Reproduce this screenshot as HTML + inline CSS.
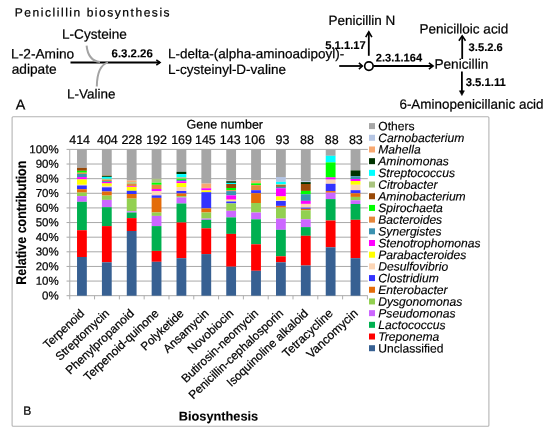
<!DOCTYPE html>
<html lang="en"><head><meta charset="utf-8"><title>Penicillin biosynthesis</title>
<style>html,body{margin:0;padding:0;background:#fff}svg{display:block}text{font-family:"Liberation Sans",sans-serif;fill:#000;text-rendering:geometricPrecision;stroke:#000;stroke-width:.22px}.b{font-weight:bold;stroke-width:.12px}.i,.n{stroke-width:.15px}.i{font-style:italic}</style></head><body>
<svg width="550" height="432" viewBox="0 0 550 432">
<rect width="550" height="432" fill="#fff"/>
<g id="panelA">
<text x="14.8" y="16.5" font-size="12" textLength="154.8" lengthAdjust="spacing" transform="rotate(0.03 14.8 16.5)">Peniclillin biosynthesis</text>
<text x="62.01" y="38.85" font-size="13.59" transform="rotate(0.03 62.01 38.85)">L-Cysteine</text>
<text x="11.10" y="58.50" font-size="13.70" transform="rotate(0.03 11.10 58.50)">L-2-Amino</text>
<text x="11.65" y="73.80" font-size="13.73" transform="rotate(0.03 11.65 73.80)">adipate</text>
<text x="67.02" y="98.60" font-size="13.48" transform="rotate(0.03 67.02 98.60)">L-Valine</text>
<text x="15.80" y="109.40" font-size="14.33" transform="rotate(0.03 15.80 109.40)">A</text>
<text x="168.12" y="58.20" font-size="13.49" transform="rotate(0.03 168.12 58.20)">L-delta-(alpha-aminoadipoyl)-</text>
<text x="168.12" y="74.00" font-size="13.50" transform="rotate(0.03 168.12 74.00)">L-cysteinyl-D-valine</text>
<text x="111.56" y="57.20" font-size="11.41" class="b" transform="rotate(0.03 111.56 57.20)">6.3.2.26</text>
<path d="M70.5 62.5H160.01" stroke="#000" stroke-width="1.8" fill="none"/>
<path d="M156.31 59.90L160.01 62.50L156.31 65.10" stroke="#000" stroke-width="1.6" fill="none"/>
<path d="M86.6 45.7C87.5 55 91 61 100 62.1" stroke="#a3a3a3" stroke-width="2" fill="none"/>
<path d="M96.8 86.5C97 74 99.5 65 108 62.4" stroke="#a3a3a3" stroke-width="2" fill="none"/>
<text x="328.42" y="24.90" font-size="13.50" transform="rotate(0.03 328.42 24.90)">Penicillin N</text>
<text x="419.52" y="33.50" font-size="13.53" transform="rotate(0.03 419.52 33.50)">Penicilloic acid</text>
<text x="434.41" y="68.80" font-size="13.67" transform="rotate(0.03 434.41 68.80)">Penicillin</text>
<text x="399.43" y="108.70" font-size="13.44" transform="rotate(0.03 399.43 108.70)">6-Aminopenicillanic acid</text>
<text x="325.16" y="49.10" font-size="11.25" class="b" transform="rotate(0.03 325.16 49.10)">5.1.1.17</text>
<text x="375.77" y="61.40" font-size="11.12" class="b" transform="rotate(0.03 375.77 61.40)">2.3.1.164</text>
<text x="468.58" y="51.00" font-size="11.19" class="b" transform="rotate(0.03 468.58 51.00)">3.5.2.6</text>
<text x="465.67" y="86.10" font-size="11.30" class="b" transform="rotate(0.03 465.67 86.10)">3.5.1.11</text>
<path d="M339.2 66.0H362.31" stroke="#000" stroke-width="1.8" fill="none"/>
<path d="M358.91 62.90L362.31 66.00L358.91 69.10" stroke="#000" stroke-width="1.6" fill="none"/>
<circle cx="368.9" cy="66.1" r="4.25" stroke="#000" stroke-width="1.7" fill="#fff"/>
<path d="M368.8 55.8V31.86" stroke="#000" stroke-width="1.8" fill="none"/>
<path d="M365.70 37.06L368.80 31.86L371.90 37.06" stroke="#000" stroke-width="1.6" fill="none"/>
<path d="M373.6 66.0H433.08" stroke="#000" stroke-width="1.8" fill="none"/>
<path d="M428.88 62.80L433.08 66.00L428.88 69.20" stroke="#000" stroke-width="1.6" fill="none"/>
<path d="M462.2 59.0V35.91" stroke="#000" stroke-width="1.8" fill="none"/>
<path d="M458.90 40.71L462.20 35.91L465.50 40.71" stroke="#000" stroke-width="1.6" fill="none"/>
<path d="M461.9 71.4V93" stroke="#000" stroke-width="1.8" fill="none"/>
<path d="M459.4 90.8L461.9 95.5L464.4 90.8Z" stroke="#000" stroke-width="0.6" fill="#000"/>
</g>
<g id="panelB">
<rect x="12.1" y="116.8" width="476.8" height="309.4" rx="1" fill="#fff" stroke="#b4b4b4" stroke-width="1.1"/>
<path d="M66.55 149.40H367.81" stroke="#a8a8a8" stroke-width="1" fill="none"/>
<path d="M66.55 164.03H367.81" stroke="#a8a8a8" stroke-width="1" fill="none"/>
<path d="M66.55 178.66H367.81" stroke="#a8a8a8" stroke-width="1" fill="none"/>
<path d="M66.55 193.29H367.81" stroke="#a8a8a8" stroke-width="1" fill="none"/>
<path d="M66.55 207.92H367.81" stroke="#a8a8a8" stroke-width="1" fill="none"/>
<path d="M66.55 222.55H367.81" stroke="#a8a8a8" stroke-width="1" fill="none"/>
<path d="M66.55 237.18H367.81" stroke="#a8a8a8" stroke-width="1" fill="none"/>
<path d="M66.55 251.81H367.81" stroke="#a8a8a8" stroke-width="1" fill="none"/>
<path d="M66.55 266.44H367.81" stroke="#a8a8a8" stroke-width="1" fill="none"/>
<path d="M66.55 281.07H367.81" stroke="#a8a8a8" stroke-width="1" fill="none"/>
<path d="M66.55 295.70H367.81" stroke="#a8a8a8" stroke-width="1" fill="none"/>
<path d="M69.75 149.40V299.40" stroke="#adadad" stroke-width="1" fill="none"/>
<path d="M94.56 295.70V299.40" stroke="#adadad" stroke-width="1" fill="none"/>
<path d="M119.36 295.70V299.40" stroke="#adadad" stroke-width="1" fill="none"/>
<path d="M144.16 295.70V299.40" stroke="#adadad" stroke-width="1" fill="none"/>
<path d="M168.97 295.70V299.40" stroke="#adadad" stroke-width="1" fill="none"/>
<path d="M193.78 295.70V299.40" stroke="#adadad" stroke-width="1" fill="none"/>
<path d="M218.58 295.70V299.40" stroke="#adadad" stroke-width="1" fill="none"/>
<path d="M243.38 295.70V299.40" stroke="#adadad" stroke-width="1" fill="none"/>
<path d="M268.19 295.70V299.40" stroke="#adadad" stroke-width="1" fill="none"/>
<path d="M293.00 295.70V299.40" stroke="#adadad" stroke-width="1" fill="none"/>
<path d="M317.80 295.70V299.40" stroke="#adadad" stroke-width="1" fill="none"/>
<path d="M342.61 295.70V299.40" stroke="#adadad" stroke-width="1" fill="none"/>
<path d="M367.41 295.70V299.40" stroke="#adadad" stroke-width="1" fill="none"/>
<text x="58.7" y="153.20" font-size="11.5" text-anchor="end" transform="rotate(0.03 58.7 153.20)">100%</text>
<text x="58.7" y="167.83" font-size="11.5" text-anchor="end" transform="rotate(0.03 58.7 167.83)">90%</text>
<text x="58.7" y="182.46" font-size="11.5" text-anchor="end" transform="rotate(0.03 58.7 182.46)">80%</text>
<text x="58.7" y="197.09" font-size="11.5" text-anchor="end" transform="rotate(0.03 58.7 197.09)">70%</text>
<text x="58.7" y="211.72" font-size="11.5" text-anchor="end" transform="rotate(0.03 58.7 211.72)">60%</text>
<text x="58.7" y="226.35" font-size="11.5" text-anchor="end" transform="rotate(0.03 58.7 226.35)">50%</text>
<text x="58.7" y="240.98" font-size="11.5" text-anchor="end" transform="rotate(0.03 58.7 240.98)">40%</text>
<text x="58.7" y="255.61" font-size="11.5" text-anchor="end" transform="rotate(0.03 58.7 255.61)">30%</text>
<text x="58.7" y="270.24" font-size="11.5" text-anchor="end" transform="rotate(0.03 58.7 270.24)">20%</text>
<text x="58.7" y="284.87" font-size="11.5" text-anchor="end" transform="rotate(0.03 58.7 284.87)">10%</text>
<text x="58.7" y="299.50" font-size="11.5" text-anchor="end" transform="rotate(0.03 58.7 299.50)">0%</text>
<rect x="77.03" y="149.40" width="9.80" height="18.50" fill="#a6a6a6"/>
<rect x="77.03" y="167.90" width="9.80" height="2.90" fill="#984807"/>
<rect x="77.03" y="170.80" width="9.80" height="1.90" fill="#00ff00"/>
<rect x="77.03" y="172.70" width="9.80" height="1.20" fill="#e6873c"/>
<rect x="77.03" y="173.90" width="9.80" height="3.20" fill="#3b92b0"/>
<rect x="77.03" y="177.10" width="9.80" height="2.30" fill="#ff00ff"/>
<rect x="77.03" y="179.40" width="9.80" height="5.40" fill="#ffff00"/>
<rect x="77.03" y="184.80" width="9.80" height="0.70" fill="#fcd5b5"/>
<rect x="77.03" y="185.50" width="9.80" height="3.70" fill="#3333ff"/>
<rect x="77.03" y="189.20" width="9.80" height="3.40" fill="#e46c0a"/>
<rect x="77.03" y="192.60" width="9.80" height="3.50" fill="#92d050"/>
<rect x="77.03" y="196.10" width="9.80" height="5.70" fill="#cc66ff"/>
<rect x="77.03" y="201.80" width="9.80" height="28.40" fill="#00b050"/>
<rect x="77.03" y="230.20" width="9.80" height="26.80" fill="#ff0000"/>
<rect x="77.03" y="257.00" width="9.80" height="38.70" fill="#376092"/>
<rect x="101.91" y="149.40" width="9.80" height="25.70" fill="#a6a6a6"/>
<rect x="101.91" y="175.10" width="9.80" height="0.60" fill="#f8a870"/>
<rect x="101.91" y="175.70" width="9.80" height="1.20" fill="#003300"/>
<rect x="101.91" y="176.90" width="9.80" height="1.90" fill="#00ffff"/>
<rect x="101.91" y="178.80" width="9.80" height="1.10" fill="#a9c47f"/>
<rect x="101.91" y="179.90" width="9.80" height="1.20" fill="#e6873c"/>
<rect x="101.91" y="181.10" width="9.80" height="0.90" fill="#3b92b0"/>
<rect x="101.91" y="182.00" width="9.80" height="1.10" fill="#ff00ff"/>
<rect x="101.91" y="183.10" width="9.80" height="0.50" fill="#e6873c"/>
<rect x="101.91" y="183.60" width="9.80" height="2.30" fill="#ffff00"/>
<rect x="101.91" y="185.90" width="9.80" height="1.40" fill="#fcd5b5"/>
<rect x="101.91" y="187.30" width="9.80" height="4.20" fill="#3333ff"/>
<rect x="101.91" y="191.50" width="9.80" height="4.10" fill="#e46c0a"/>
<rect x="101.91" y="195.60" width="9.80" height="4.30" fill="#92d050"/>
<rect x="101.91" y="199.90" width="9.80" height="7.30" fill="#cc66ff"/>
<rect x="101.91" y="207.20" width="9.80" height="18.90" fill="#00b050"/>
<rect x="101.91" y="226.10" width="9.80" height="36.20" fill="#ff0000"/>
<rect x="101.91" y="262.30" width="9.80" height="33.40" fill="#376092"/>
<rect x="126.78" y="149.40" width="9.80" height="31.20" fill="#a6a6a6"/>
<rect x="126.78" y="180.60" width="9.80" height="1.60" fill="#f8a870"/>
<rect x="126.78" y="182.20" width="9.80" height="1.70" fill="#a9c47f"/>
<rect x="126.78" y="183.90" width="9.80" height="2.20" fill="#e6873c"/>
<rect x="126.78" y="186.10" width="9.80" height="0.80" fill="#ff00ff"/>
<rect x="126.78" y="186.90" width="9.80" height="3.90" fill="#ffff00"/>
<rect x="126.78" y="190.80" width="9.80" height="3.20" fill="#3333ff"/>
<rect x="126.78" y="194.00" width="9.80" height="4.60" fill="#e46c0a"/>
<rect x="126.78" y="198.60" width="9.80" height="12.70" fill="#92d050"/>
<rect x="126.78" y="211.30" width="9.80" height="1.20" fill="#cc66ff"/>
<rect x="126.78" y="212.50" width="9.80" height="5.60" fill="#00b050"/>
<rect x="126.78" y="218.10" width="9.80" height="12.90" fill="#ff0000"/>
<rect x="126.78" y="231.00" width="9.80" height="64.70" fill="#376092"/>
<rect x="151.65" y="149.40" width="9.80" height="29.40" fill="#a6a6a6"/>
<rect x="151.65" y="178.80" width="9.80" height="3.90" fill="#a9c47f"/>
<rect x="151.65" y="182.70" width="9.80" height="2.10" fill="#00ff00"/>
<rect x="151.65" y="184.80" width="9.80" height="4.20" fill="#e6873c"/>
<rect x="151.65" y="189.00" width="9.80" height="2.00" fill="#ff00ff"/>
<rect x="151.65" y="191.00" width="9.80" height="4.40" fill="#fcd5b5"/>
<rect x="151.65" y="195.40" width="9.80" height="2.50" fill="#3333ff"/>
<rect x="151.65" y="197.90" width="9.80" height="14.60" fill="#e46c0a"/>
<rect x="151.65" y="212.50" width="9.80" height="3.40" fill="#92d050"/>
<rect x="151.65" y="215.90" width="9.80" height="10.20" fill="#cc66ff"/>
<rect x="151.65" y="226.10" width="9.80" height="24.80" fill="#00b050"/>
<rect x="151.65" y="250.90" width="9.80" height="10.90" fill="#ff0000"/>
<rect x="151.65" y="261.80" width="9.80" height="33.90" fill="#376092"/>
<rect x="176.52" y="149.40" width="9.80" height="22.40" fill="#a6a6a6"/>
<rect x="176.52" y="171.80" width="9.80" height="2.30" fill="#003300"/>
<rect x="176.52" y="174.10" width="9.80" height="3.20" fill="#00ffff"/>
<rect x="176.52" y="177.30" width="9.80" height="1.50" fill="#a9c47f"/>
<rect x="176.52" y="178.80" width="9.80" height="1.10" fill="#00ff00"/>
<rect x="176.52" y="179.90" width="9.80" height="1.40" fill="#3b92b0"/>
<rect x="176.52" y="181.30" width="9.80" height="1.80" fill="#ff00ff"/>
<rect x="176.52" y="183.10" width="9.80" height="3.90" fill="#ffff00"/>
<rect x="176.52" y="187.00" width="9.80" height="4.00" fill="#fcd5b5"/>
<rect x="176.52" y="191.00" width="9.80" height="2.50" fill="#3333ff"/>
<rect x="176.52" y="193.50" width="9.80" height="2.60" fill="#e46c0a"/>
<rect x="176.52" y="196.10" width="9.80" height="1.40" fill="#92d050"/>
<rect x="176.52" y="197.50" width="9.80" height="6.00" fill="#cc66ff"/>
<rect x="176.52" y="203.50" width="9.80" height="19.00" fill="#00b050"/>
<rect x="176.52" y="222.50" width="9.80" height="35.70" fill="#ff0000"/>
<rect x="176.52" y="258.20" width="9.80" height="37.50" fill="#376092"/>
<rect x="201.38" y="149.40" width="9.80" height="34.20" fill="#a6a6a6"/>
<rect x="201.38" y="183.60" width="9.80" height="4.20" fill="#f8a870"/>
<rect x="201.38" y="187.80" width="9.80" height="0.50" fill="#e6873c"/>
<rect x="201.38" y="188.30" width="9.80" height="2.10" fill="#ff00ff"/>
<rect x="201.38" y="190.40" width="9.80" height="1.80" fill="#ffff00"/>
<rect x="201.38" y="192.20" width="9.80" height="16.20" fill="#3333ff"/>
<rect x="201.38" y="208.40" width="9.80" height="4.10" fill="#e46c0a"/>
<rect x="201.38" y="212.50" width="9.80" height="6.10" fill="#92d050"/>
<rect x="201.38" y="218.60" width="9.80" height="1.20" fill="#cc66ff"/>
<rect x="201.38" y="219.80" width="9.80" height="8.50" fill="#00b050"/>
<rect x="201.38" y="228.30" width="9.80" height="25.80" fill="#ff0000"/>
<rect x="201.38" y="254.10" width="9.80" height="41.60" fill="#376092"/>
<rect x="226.25" y="149.40" width="9.80" height="31.30" fill="#a6a6a6"/>
<rect x="226.25" y="180.70" width="9.80" height="0.50" fill="#b5c5e3"/>
<rect x="226.25" y="181.20" width="9.80" height="1.70" fill="#003300"/>
<rect x="226.25" y="182.90" width="9.80" height="1.10" fill="#00ffff"/>
<rect x="226.25" y="184.00" width="9.80" height="4.00" fill="#984807"/>
<rect x="226.25" y="188.00" width="9.80" height="2.20" fill="#00ff00"/>
<rect x="226.25" y="190.20" width="9.80" height="0.90" fill="#e6873c"/>
<rect x="226.25" y="191.10" width="9.80" height="4.30" fill="#3b92b0"/>
<rect x="226.25" y="195.40" width="9.80" height="4.30" fill="#ff00ff"/>
<rect x="226.25" y="199.70" width="9.80" height="0.90" fill="#ffff00"/>
<rect x="226.25" y="200.60" width="9.80" height="0.90" fill="#fcd5b5"/>
<rect x="226.25" y="201.50" width="9.80" height="1.90" fill="#3333ff"/>
<rect x="226.25" y="203.40" width="9.80" height="7.40" fill="#92d050"/>
<rect x="226.25" y="210.80" width="9.80" height="6.60" fill="#cc66ff"/>
<rect x="226.25" y="217.40" width="9.80" height="16.50" fill="#00b050"/>
<rect x="226.25" y="233.90" width="9.80" height="32.80" fill="#ff0000"/>
<rect x="226.25" y="266.70" width="9.80" height="29.00" fill="#376092"/>
<rect x="251.12" y="149.40" width="9.80" height="31.30" fill="#a6a6a6"/>
<rect x="251.12" y="180.70" width="9.80" height="2.60" fill="#f8a870"/>
<rect x="251.12" y="183.30" width="9.80" height="1.90" fill="#00ff00"/>
<rect x="251.12" y="185.20" width="9.80" height="5.00" fill="#e6873c"/>
<rect x="251.12" y="190.20" width="9.80" height="3.00" fill="#3333ff"/>
<rect x="251.12" y="193.20" width="9.80" height="9.80" fill="#e46c0a"/>
<rect x="251.12" y="203.00" width="9.80" height="9.50" fill="#92d050"/>
<rect x="251.12" y="212.50" width="9.80" height="6.80" fill="#cc66ff"/>
<rect x="251.12" y="219.30" width="9.80" height="25.00" fill="#00b050"/>
<rect x="251.12" y="244.30" width="9.80" height="26.50" fill="#ff0000"/>
<rect x="251.12" y="270.80" width="9.80" height="24.90" fill="#376092"/>
<rect x="276.00" y="149.40" width="9.80" height="27.60" fill="#a6a6a6"/>
<rect x="276.00" y="177.00" width="9.80" height="4.90" fill="#b5c5e3"/>
<rect x="276.00" y="181.90" width="9.80" height="2.40" fill="#00ffff"/>
<rect x="276.00" y="184.30" width="9.80" height="0.90" fill="#a9c47f"/>
<rect x="276.00" y="185.20" width="9.80" height="1.60" fill="#984807"/>
<rect x="276.00" y="186.80" width="9.80" height="1.50" fill="#3b92b0"/>
<rect x="276.00" y="188.30" width="9.80" height="8.10" fill="#ff00ff"/>
<rect x="276.00" y="196.40" width="9.80" height="3.90" fill="#ffff00"/>
<rect x="276.00" y="200.30" width="9.80" height="0.70" fill="#fcd5b5"/>
<rect x="276.00" y="201.00" width="9.80" height="4.90" fill="#3333ff"/>
<rect x="276.00" y="205.90" width="9.80" height="1.70" fill="#e46c0a"/>
<rect x="276.00" y="207.60" width="9.80" height="11.00" fill="#92d050"/>
<rect x="276.00" y="218.60" width="9.80" height="11.20" fill="#cc66ff"/>
<rect x="276.00" y="229.80" width="9.80" height="26.50" fill="#00b050"/>
<rect x="276.00" y="256.30" width="9.80" height="6.00" fill="#ff0000"/>
<rect x="276.00" y="262.30" width="9.80" height="33.40" fill="#376092"/>
<rect x="300.87" y="149.40" width="9.80" height="31.80" fill="#a6a6a6"/>
<rect x="300.87" y="181.20" width="9.80" height="0.90" fill="#b5c5e3"/>
<rect x="300.87" y="182.10" width="9.80" height="1.90" fill="#003300"/>
<rect x="300.87" y="184.00" width="9.80" height="6.90" fill="#984807"/>
<rect x="300.87" y="190.90" width="9.80" height="3.30" fill="#00ff00"/>
<rect x="300.87" y="194.20" width="9.80" height="6.70" fill="#3b92b0"/>
<rect x="300.87" y="200.90" width="9.80" height="3.00" fill="#ff00ff"/>
<rect x="300.87" y="203.90" width="9.80" height="3.70" fill="#fcd5b5"/>
<rect x="300.87" y="207.60" width="9.80" height="1.20" fill="#3333ff"/>
<rect x="300.87" y="208.80" width="9.80" height="1.50" fill="#e46c0a"/>
<rect x="300.87" y="210.30" width="9.80" height="9.00" fill="#92d050"/>
<rect x="300.87" y="219.30" width="9.80" height="7.80" fill="#cc66ff"/>
<rect x="300.87" y="227.10" width="9.80" height="8.70" fill="#00b050"/>
<rect x="300.87" y="235.80" width="9.80" height="29.70" fill="#ff0000"/>
<rect x="300.87" y="265.50" width="9.80" height="30.20" fill="#376092"/>
<rect x="325.74" y="149.40" width="9.80" height="6.40" fill="#a6a6a6"/>
<rect x="325.74" y="155.80" width="9.80" height="6.60" fill="#00ffff"/>
<rect x="325.74" y="162.40" width="9.80" height="15.00" fill="#00ff00"/>
<rect x="325.74" y="177.40" width="9.80" height="2.20" fill="#ff00ff"/>
<rect x="325.74" y="179.60" width="9.80" height="4.20" fill="#fcd5b5"/>
<rect x="325.74" y="183.80" width="9.80" height="7.30" fill="#3333ff"/>
<rect x="325.74" y="191.10" width="9.80" height="1.60" fill="#e46c0a"/>
<rect x="325.74" y="192.70" width="9.80" height="6.40" fill="#cc66ff"/>
<rect x="325.74" y="199.10" width="9.80" height="21.40" fill="#00b050"/>
<rect x="325.74" y="220.50" width="9.80" height="26.80" fill="#ff0000"/>
<rect x="325.74" y="247.30" width="9.80" height="48.40" fill="#376092"/>
<rect x="350.61" y="149.40" width="9.80" height="21.00" fill="#a6a6a6"/>
<rect x="350.61" y="170.40" width="9.80" height="5.80" fill="#003300"/>
<rect x="350.61" y="176.20" width="9.80" height="2.80" fill="#3b92b0"/>
<rect x="350.61" y="179.00" width="9.80" height="2.00" fill="#ff00ff"/>
<rect x="350.61" y="181.00" width="9.80" height="3.80" fill="#ffff00"/>
<rect x="350.61" y="184.80" width="9.80" height="5.40" fill="#fcd5b5"/>
<rect x="350.61" y="190.20" width="9.80" height="3.10" fill="#3333ff"/>
<rect x="350.61" y="193.30" width="9.80" height="3.60" fill="#e46c0a"/>
<rect x="350.61" y="196.90" width="9.80" height="3.40" fill="#92d050"/>
<rect x="350.61" y="200.30" width="9.80" height="3.70" fill="#cc66ff"/>
<rect x="350.61" y="204.00" width="9.80" height="15.80" fill="#00b050"/>
<rect x="350.61" y="219.80" width="9.80" height="38.40" fill="#ff0000"/>
<rect x="350.61" y="258.20" width="9.80" height="37.50" fill="#376092"/>
<text x="69.21" y="143.9" font-size="12.5" transform="rotate(0.03 69.21 143.9)">414</text>
<text x="96.96" y="143.9" font-size="12.5" transform="rotate(0.03 96.96 143.9)">404</text>
<text x="121.41" y="143.9" font-size="12.5" transform="rotate(0.03 121.41 143.9)">228</text>
<text x="146.15" y="143.9" font-size="12.5" transform="rotate(0.03 146.15 143.9)">192</text>
<text x="171.15" y="143.9" font-size="12.5" transform="rotate(0.03 171.15 143.9)">169</text>
<text x="194.94" y="143.9" font-size="12.5" transform="rotate(0.03 194.94 143.9)">145</text>
<text x="219.79" y="143.9" font-size="12.5" transform="rotate(0.03 219.79 143.9)">143</text>
<text x="244.24" y="143.9" font-size="12.5" transform="rotate(0.03 244.24 143.9)">106</text>
<text x="275.57" y="143.9" font-size="12.5" transform="rotate(0.03 275.57 143.9)">93</text>
<text x="299.97" y="143.9" font-size="12.5" transform="rotate(0.03 299.97 143.9)">88</text>
<text x="324.77" y="143.9" font-size="12.5" transform="rotate(0.03 324.77 143.9)">88</text>
<text x="348.92" y="143.9" font-size="12.5" transform="rotate(0.03 348.92 143.9)">83</text>
<text x="186.57" y="128.6" font-size="12.5" transform="rotate(0.03 186.57 128.6)">Gene number</text>
<text transform="translate(25.8 283.9) rotate(-90) scale(1 1.13)" x="-0.75" y="0" font-size="12.47" class="b">Relative contribution</text>
<text transform="translate(85.03 314.20) rotate(-43.3)" font-size="11.68" text-anchor="end">Terpenoid</text>
<text transform="translate(109.91 314.20) rotate(-43.3)" font-size="11.76" text-anchor="end">Streptomycin</text>
<text transform="translate(134.78 314.20) rotate(-43.3)" font-size="11.81" text-anchor="end">Phenylpropanoid</text>
<text transform="translate(159.65 314.20) rotate(-43.3)" font-size="11.83" text-anchor="end">Terpenoid-quinone</text>
<text transform="translate(184.52 314.20) rotate(-43.3)" font-size="11.70" text-anchor="end">Polyketide</text>
<text transform="translate(209.38 314.20) rotate(-43.3)" font-size="11.71" text-anchor="end">Ansamycin</text>
<text transform="translate(234.25 314.20) rotate(-43.3)" font-size="11.72" text-anchor="end">Novobiocin</text>
<text transform="translate(259.12 314.20) rotate(-43.3)" font-size="11.84" text-anchor="end">Butirosin-neomycin</text>
<text transform="translate(284.00 314.20) rotate(-43.3)" font-size="11.87" text-anchor="end">Penicillin-cephalosporin</text>
<text transform="translate(308.87 314.20) rotate(-43.3)" font-size="11.84" text-anchor="end">Isoquinoline alkaloid</text>
<text transform="translate(333.74 314.20) rotate(-43.3)" font-size="12.15" text-anchor="end">Tetracycline</text>
<text transform="translate(358.61 314.20) rotate(-43.3)" font-size="12.15" text-anchor="end">Vancomycin</text>
<text x="178.83" y="420.5" font-size="12.76" class="b" transform="rotate(0.03 178.83 420.5)">Biosynthesis</text>
<text x="23.14" y="414.8" font-size="12.04" transform="rotate(0.03 23.14 414.8)">B</text>
<rect x="369.00" y="123.10" width="6" height="6" fill="#a6a6a6"/>
<text x="378.30" y="130.20" font-size="12.1" class="n" transform="rotate(0.03 378.30 130.20)">Others</text>
<rect x="369.00" y="134.79" width="6" height="6" fill="#b5c5e3"/>
<text x="378.30" y="141.90" font-size="12.1" class="i" transform="rotate(0.03 378.30 141.90)">Carnobacterium</text>
<rect x="369.00" y="146.48" width="6" height="6" fill="#f8a870"/>
<text x="378.30" y="153.60" font-size="12.1" class="i" transform="rotate(0.03 378.30 153.60)">Mahella</text>
<rect x="369.00" y="158.17" width="6" height="6" fill="#003300"/>
<text x="378.30" y="165.30" font-size="12.1" class="i" transform="rotate(0.03 378.30 165.30)">Aminomonas</text>
<rect x="369.00" y="169.86" width="6" height="6" fill="#00ffff"/>
<text x="378.30" y="177.00" font-size="12.1" class="i" transform="rotate(0.03 378.30 177.00)">Streptococcus</text>
<rect x="369.00" y="181.55" width="6" height="6" fill="#a9c47f"/>
<text x="378.30" y="188.70" font-size="12.1" class="i" transform="rotate(0.03 378.30 188.70)">Citrobacter</text>
<rect x="369.00" y="193.24" width="6" height="6" fill="#984807"/>
<text x="378.30" y="200.40" font-size="12.1" class="i" transform="rotate(0.03 378.30 200.40)">Aminobacterium</text>
<rect x="369.00" y="204.93" width="6" height="6" fill="#00ff00"/>
<text x="378.30" y="212.10" font-size="12.1" class="i" transform="rotate(0.03 378.30 212.10)">Spirochaeta</text>
<rect x="369.00" y="216.62" width="6" height="6" fill="#e6873c"/>
<text x="378.30" y="223.80" font-size="12.1" class="i" transform="rotate(0.03 378.30 223.80)">Bacteroides</text>
<rect x="369.00" y="228.31" width="6" height="6" fill="#3b92b0"/>
<text x="378.30" y="235.50" font-size="12.1" class="i" transform="rotate(0.03 378.30 235.50)">Synergistes</text>
<rect x="369.00" y="240.00" width="6" height="6" fill="#ff00ff"/>
<text x="378.30" y="247.20" font-size="12.1" class="i" transform="rotate(0.03 378.30 247.20)">Stenotrophomonas</text>
<rect x="369.00" y="251.69" width="6" height="6" fill="#ffff00"/>
<text x="378.30" y="258.90" font-size="12.1" class="i" transform="rotate(0.03 378.30 258.90)">Parabacteroides</text>
<rect x="369.00" y="263.38" width="6" height="6" fill="#fcd5b5"/>
<text x="378.30" y="270.60" font-size="12.1" class="i" transform="rotate(0.03 378.30 270.60)">Desulfovibrio</text>
<rect x="369.00" y="275.07" width="6" height="6" fill="#3333ff"/>
<text x="378.30" y="282.30" font-size="12.1" class="i" transform="rotate(0.03 378.30 282.30)">Clostridium</text>
<rect x="369.00" y="286.76" width="6" height="6" fill="#e46c0a"/>
<text x="378.30" y="294.00" font-size="12.1" class="i" transform="rotate(0.03 378.30 294.00)">Enterobacter</text>
<rect x="369.00" y="298.45" width="6" height="6" fill="#92d050"/>
<text x="378.30" y="305.70" font-size="12.1" class="i" transform="rotate(0.03 378.30 305.70)">Dysgonomonas</text>
<rect x="369.00" y="310.14" width="6" height="6" fill="#cc66ff"/>
<text x="378.30" y="317.40" font-size="12.1" class="i" transform="rotate(0.03 378.30 317.40)">Pseudomonas</text>
<rect x="369.00" y="321.83" width="6" height="6" fill="#00b050"/>
<text x="378.30" y="329.10" font-size="12.1" class="i" transform="rotate(0.03 378.30 329.10)">Lactococcus</text>
<rect x="369.00" y="333.52" width="6" height="6" fill="#ff0000"/>
<text x="378.30" y="340.80" font-size="12.1" class="i" transform="rotate(0.03 378.30 340.80)">Treponema</text>
<rect x="369.00" y="345.21" width="6" height="6" fill="#376092"/>
<text x="378.30" y="352.50" font-size="12.1" class="n" transform="rotate(0.03 378.30 352.50)">Unclassified</text>
</g>
</svg></body></html>
